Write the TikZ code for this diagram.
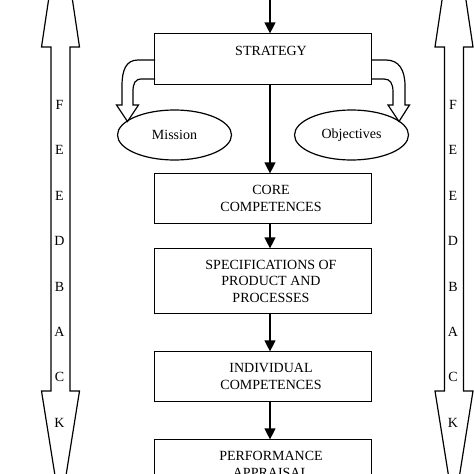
\documentclass[tikz,border=0pt]{standalone}
\usepackage{fontspec}
\setmainfont{Liberation Serif}
\usetikzlibrary{arrows.meta,shapes.geometric}

\begin{document}
\begin{tikzpicture}[x=1pt,y=-1pt,line width=1.2pt,font=\fontsize{14pt}{16.5pt}\selectfont,
  box/.style={minimum width=200pt,minimum height=49pt,align=center,inner sep=0pt},
  oval/.style={draw,ellipse,minimum width=114pt,minimum height=50pt,inner sep=0pt},
  arr/.style={-{Triangle[length=11pt,width=11pt]}}]
\useasboundingbox (0,0) rectangle (474,474);
\clip (0,0) rectangle (474,474);
% boxes down the middle
\node[box,minimum height=50pt] (strategy) at (271,59) {STRATEGY\\\mbox{}};
\node[box] (core) at (271,198.5) {CORE\\COMPETENCES};
\node[box,minimum height=64pt] (spec) at (271,281) {SPECIFICATIONS OF\\PRODUCT AND\\PROCESSES};
\node[box] (indiv) at (271,376.5) {INDIVIDUAL\\COMPETENCES};
\node[box] (perf) at (271,464.5) {PERFORMANCE\\APPRAISAL};
\foreach \n in {strategy,core,spec,indiv,perf}
  \draw ([xshift=-16pt]\n.south west) rectangle (\n.north east);
\node[oval] (mission) at (174.5,135) {Mission};
\node[oval] (objectives) at (351.5,135) {Objectives};
% arrows
\coordinate (top) at (270,0);
\draw[arr] (top) -- (strategy.north -| top);
\draw[arr] (strategy.south -| top) -- (core.north -| top);
\foreach \a/\b in {core/spec,spec/indiv,indiv/perf}
  \draw[arr] (\a.south -| top) -- (\b.north -| top);
% bent block arrows
\draw (155,60) -- (138,60) .. controls (126,60) and (122,70) .. (122,86) -- (122,105) -- (116.5,105)
  -- (127.5,121.5) -- (138.5,105) -- (133,105) -- (133,92) .. controls (133,83) and (135,79) .. (142,79) -- (155,79);
\draw (371,60) -- (386,60) .. controls (399,60) and (405,70) .. (405,86) -- (405,105) -- (409.5,105)
  -- (399,121.5) -- (388,105) -- (393,105) -- (393,92) .. controls (393,83) and (390,79) .. (384,79) -- (371,79);
% feedback
\foreach \cx/\s in {60.5/l,454/r}{
  \draw (\cx-9.5,47) -- (\cx-19,47) -- (\cx,-80) -- (\cx+19,47) -- (\cx+9.5,47) -- (\cx+9.5,391)
    -- (\cx+19,391) -- (\cx,510) -- (\cx-19,391) -- (\cx-9.5,391) -- cycle;
  \foreach \l [count=\i from 0] in {F,E,E,D,B,A,C,K}
    \node (\s\i) at (\cx-1,105+45.4*\i) {\l};
}
\end{tikzpicture}
\end{document}
